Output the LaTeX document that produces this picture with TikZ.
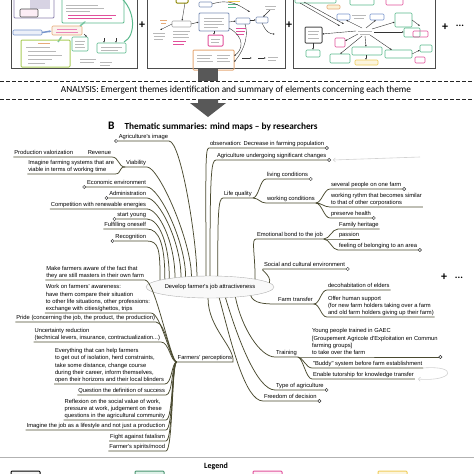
\documentclass[tikz,border=0pt]{standalone}
\usepackage{fontspec}
\setmainfont{Carlito}
\newfontfamily\mapfamily{Liberation Sans}
\usetikzlibrary{positioning,shapes.geometric,arrows.meta}

\newcommand{\mapfont}{\mapfamily\fontsize{5.8}{7.3}\selectfont}

\definecolor{branchcol}{RGB}{74,74,48}
\definecolor{mgreen}{RGB}{90,185,140}
\definecolor{mpink}{RGB}{225,80,155}
\definecolor{mpurple}{RGB}{140,130,175}
\definecolor{morange}{RGB}{230,170,120}
\definecolor{mblue}{RGB}{120,150,205}
\definecolor{myellow}{RGB}{240,205,90}
\definecolor{mlime}{RGB}{170,205,90}
\definecolor{arrowgray}{RGB}{88,88,88}

\begin{document}
\begin{tikzpicture}[x=1pt, y=-1pt,
  thumb/.style={draw=gray!60!black, line width=0.9pt},
  mini/.style={rounded corners=1pt, line width=0.6pt},
  textline/.style={gray!55, line width=0.7pt},
  arrline/.style={gray!40!black, line width=0.4pt, -{Latex[length=2pt,width=1.6pt]}},
  branch/.style={draw=branchcol, line width=0.75pt},
  lft/.style={font=\mapfont, inner xsep=0.8pt, inner ysep=0.8pt, text depth=1.4pt, align=left, anchor=south east},
  rgt/.style={lft, anchor=south west},
  dot/.style={circle, draw=gray!40!black, fill=white, line width=0.45pt, inner sep=0pt, minimum size=3.2pt},
  lightline/.style={gray!35, line width=0.6pt}]
\useasboundingbox (0,0) rectangle (474,474);
\clip (0,0) rectangle (474,474);
\fill[white] (0,0) rectangle (474,474);

% ------------------------------- interview maps (thumbnails)
\draw[thumb] (11,-3) rectangle (137,68);
\draw[thumb] (147,-3) rectangle (285,68);
\draw[thumb] (293,-3) rectangle (435,68);

% map 1
\draw[mini, draw=mpurple, line width=0.8pt] (14,-3) rectangle (54,18);
\fill[mpurple!35] (30,-3) rectangle (50,9);
\draw[mini, draw=gray!60!black, fill=mpink!10] (20,9) rectangle (38,17);
\draw[mini, draw=mgreen, line width=0.8pt] (62,-3) rectangle (124,23);
\draw[textline] (66,5) -- (98,5) (66,8) -- (104,8) (66,11) -- (90,11);
\draw[textline, mpink] (68,15) -- (116,15) (68,18) -- (112,18);
\draw[mgreen, line width=1pt] (120,-3) .. controls (136,10) and (136,36) .. (124,42);
\draw[mini, draw=morange, fill=morange!15] (52,26) rectangle (82,35);
\draw[textline, mpink!70] (57,29) -- (77,29) (56,32) -- (78,32);
\draw[mini, draw=mblue, fill=mblue!15] (13,30) rectangle (42,35);
\draw[mblue, line width=1.5pt, -{Latex[length=3pt]}] (42,32.5) -- (52,31);
\draw[mgreen!80, line width=1.5pt, -{Latex[length=2.5pt]}] (80,26) -- (86,21);
\draw[mgreen!80, line width=1.5pt, -{Latex[length=2.5pt]}] (58,42) -- (62,36);
\draw[mini, draw=mlime, line width=1pt] (21,40) rectangle (70,67);
\draw[textline, morange] (38,43) -- (50,43);
\draw[textline] (26,47) -- (50,47) (28,51) -- (56,51) (28,55) -- (62,55) (28,59) -- (52,59) (28,63) -- (45,63);
\draw[mini, draw=mgreen] (72,37) rectangle (88,51);
\draw[textline] (75,41) -- (85,41) (75,44) -- (84,44) (75,47) -- (85,47);
\draw[mini, draw=mgreen] (97,43) rectangle (126,53);
\draw[textline] (101,47) -- (122,47) (101,50) -- (118,50);
\draw[arrline] (84,34) -- (87,37);
\draw[arrline] (104,38) -- (104,43);
\draw[arrline] (116,38) -- (116,43);
\draw[textline] (80,59) -- (96,59) (80,62) -- (94,62) (100,62) -- (112,62) (100,65) -- (110,65);

% map 2
\draw[mini, draw=olive, line width=1pt] (176,-3) rectangle (188,3);
\draw[mini, draw=gray!70] (172,21) rectangle (191,27);
\draw[mini, draw=mblue!70!gray, line width=0.8pt] (199,13) rectangle (229,31);
\draw[textline] (204,18) -- (224,18) (204,21) -- (222,21) (204,24) -- (224,24) (204,27) -- (218,27);
\draw[mini, draw=mblue!70!gray] (199,2) rectangle (212,7);
\draw[mini, draw=mpink, line width=1pt] (208,35) rectangle (223,46);
\draw[textline] (211,39) -- (220,39) (211,42) -- (219,42);
\draw[mini, draw=morange, line width=1pt] (193,50) rectangle (234,70);
\draw[textline] (197,55) -- (212,55) (197,58) -- (210,58) (197,61) -- (213,61) (217,55) -- (230,55) (217,58) -- (228,58) (217,61) -- (230,61);
\draw[mini, draw=mblue!70!gray] (236,18) rectangle (250,24);
\draw[mini, draw=mblue!70!gray] (256,17) rectangle (268,23);
\draw[textline, myellow] (228,1) -- (240,1);
\draw[textline, mgreen] (228,4) -- (238,4) (228,7) -- (236,7);
\draw[textline, mpink] (236,28) -- (246,28) (236,31) -- (245,31) (236,34) -- (244,34);
\draw[textline, morange] (160,20) -- (167,20) (161,23) -- (166,23);
\draw[textline] (153,33) -- (165,33) (154,36) -- (165,36) (154,39) -- (163,39);
\draw[textline] (173,31) -- (190,31) (173,34) -- (188,34) (173,37) -- (189,37);
\draw[textline, mpink] (173,41) -- (186,41) (173,44) -- (184,44);
\draw[arrline] (191,24) -- (199,22);
\draw[arrline] (214,31) -- (214,35);
\draw[arrline] (229,22) -- (236,21);
\draw[arrline] (250,20) -- (256,20);
\draw[arrline] (185,3) -- (182,21);
\draw[arrline] (172,24) -- (160,30);
\draw[arrline] (212,4) .. controls (230,-2) and (240,6) .. (250,12);
\draw[arrline] (229,28) .. controls (246,38) and (242,50) .. (234,56);
\draw[arrline] (245,24) .. controls (250,40) and (240,55) .. (234,62);
\draw[arrline] (262,23) .. controls (266,32) and (270,34) .. (275,34);
\draw[arrline] (270,10) -- (263,17);
\draw[textline] (265,6) -- (276,6) (266,9) -- (275,9);
\draw[arrline] (242,58) -- (252,58);
\draw[arrline] (258,58) -- (266,58);
\draw[textline] (268,57) -- (278,57) (268,60) -- (276,60);

% map 3
\draw[mini, draw=mgreen] (295,-3) rectangle (336,3);
\draw[mini, draw=mgreen] (350,-3) rectangle (374,5);
\draw[mini, draw=mpink] (386,-3) rectangle (403,5);
\draw[mini, draw=morange, fill=myellow!25] (327,5) rectangle (340,9);
\draw[mini, draw=mblue] (337,14) rectangle (350,20);
\draw[mini, draw=mblue] (370,14) rectangle (384,20);
\draw[textline] (352,15) -- (366,15) (354,18) -- (364,18);
\draw[mini, draw=gray!60!black, line width=1pt] (305,27) rectangle (322,43);
\draw[textline] (308,31) -- (319,31) (308,34) -- (318,34) (308,38) -- (319,38);
\draw[mini, draw=mgreen] (306,50) rectangle (320,57);
\draw[mini, draw=mpink] (335,38) rectangle (345,47);
\draw[mini, draw=mgreen] (330,54) rectangle (350,63);
\draw[mini, draw=mgreen] (352,47) rectangle (382,55);
\draw[mini, draw=myellow, fill=myellow!20] (355,60) rectangle (378,65);
\draw[mini, draw=mgreen] (385,50) rectangle (412,58);
\draw[mini, draw=mgreen] (395,13) rectangle (412,27);
\draw[mini, draw=mgreen] (404,28) rectangle (420,37);
\draw[mini, draw=mpink] (413,31) rectangle (428,37);
\draw[mini, draw=mpink] (415,57) rectangle (425,63);
\draw[mini, draw=mgreen] (420,45) rectangle (432,52);
\draw[textline] (358,31) -- (372,31) (360,34) -- (370,34);
\draw[arrline] (300,3) -- (340,26);
\draw[arrline] (304,2) -- (344,24);
\draw[arrline] (356,31) -- (322,34);
\draw[arrline] (358,34) -- (345,41);
\draw[arrline] (362,36) -- (340,54);
\draw[arrline] (365,36) -- (366,47);
\draw[arrline] (370,35) -- (392,50);
\draw[arrline] (374,32) -- (404,32);
\draw[arrline] (372,29) -- (395,22);
\draw[arrline] (366,28) -- (376,20);
\draw[arrline] (362,28) -- (346,20);
\draw[arrline] (313,43) -- (313,50);
\draw[arrline] (412,54) -- (420,50);
\draw[arrline] (412,20) -- (420,26);
\draw[arrline] (366,55) -- (366,60);

\node (plus1) [font=\bfseries\large] at (142,25) {+};
\node (plus2) [font=\bfseries\large] at (289,25) {+};
\node (plus3) [font=\bfseries\large] at (445,27) {+};
\node (dots3) [font=\bfseries] at (460,26) {...};

% ------------------------------- analysis band
\fill[arrowgray] (198,69) rectangle (218,81);
\draw[gray!30!black, line width=0.9pt, dash pattern=on 4pt off 2pt] (0,81) -- (474,81);
\node (ana) [font=\fontsize{9.3}{11}\selectfont] at (236,90) {ANALYSIS: Emergent themes identification and summary of elements concerning each theme};
\draw[gray!30!black, line width=0.9pt, dash pattern=on 4pt off 2pt] (0,99) -- (474,99);
\fill[arrowgray] (198,99) -- (218,99) -- (218,103) -- (226,103) -- (208,117) -- (190,103) -- (198,103) -- cycle;

\node (secB) [font=\fontsize{11.5}{12}\selectfont\bfseries, anchor=base east] at (118,129) {B};
\node (secBtitle) [font=\fontsize{9.3}{11}\selectfont\bfseries, anchor=base west] at (121,129) {Thematic summaries: mind maps -- by researchers};

% ------------------------------- mind map
\node (dev) [ellipse, draw=gray!60, fill=gray!5, minimum width=107pt, minimum height=22pt, inner sep=0pt, font=\mapfont] at (210,287) {Develop farmer's job attractiveness};

% left, upper
\node (img) [lft] at (169,141) {Agriculture's image};
\node (via) [lft] at (147,167) {Viability};
\node (rev) [lft] at (112,157) {Revenue};
\node (val) [lft] at (74,157) {Production valorization};
\node (sys) [lft] at (115,174) {Imagine farming systems that are\\viable in terms of working time};
\node (eco) [lft] at (147,187) {Economic environment};
\node (adm) [lft] at (147,198) {Administration};
\node (cmp) [lft] at (147,209) {Competition with renewable energies};
\node (sty) [lft] at (147,219) {start young};
\node (ful) [lft] at (147,229) {Fulfilling oneself};
\node (rec) [lft] at (147,241) {Recognition};

\draw[branch] (dev.140) .. controls +(0,-35) and +(12,0) .. (img.south east) -- (img.south west);
\draw[branch] (dev.150) .. controls +(0,-35) and +(12,0) .. (via.south east) -- (via.south west);
\draw[branch] (dev.157) .. controls +(0,-35) and +(12,0) .. (eco.south east) -- (eco.south west);
\draw[branch] (dev.161.5) .. controls +(0,-35) and +(12,0) .. (adm.south east) -- (adm.south west);
\draw[branch] (dev.165) .. controls +(0,-35) and +(12,0) .. (cmp.south east) -- (cmp.south west);
\draw[branch] (dev.168) .. controls +(0,-35) and +(12,0) .. (sty.south east) -- (sty.south west);
\draw[branch] (dev.170) .. controls +(0,-35) and +(12,0) .. (ful.south east) -- (ful.south west);
\draw[branch] (dev.172.5) .. controls +(0,-30) and +(12,0) .. (rec.south east) -- (rec.south west);
\draw[branch] (via.south west) .. controls +(-7,0) and +(7,0) .. (rev.south east) -- (val.south west);
\draw[branch] (via.south west) .. controls +(-7,0) and +(7,0) .. (sys.south east) -- (sys.south west);

\node (imgo) [dot, left=0pt of img.south west] {};
\node (ecoo) [dot, left=0pt of eco.south west] {};
\node (admo) [dot, left=0pt of adm.south west] {};
\node (styo) [dot, left=0pt of sty.south west] {};
\node (reco) [dot, left=0pt of rec.south west] {};

% left, lower
\node (fp) [lft] at (233,362) {Farmers' perceptions};
\node (fa) [lft] at (145,280) {Make farmers aware of the fact that\\they are still masters in their own farm};
\node (fb) [lft] at (151,313) {Work on farmers' awareness:\\have them compare their situation\\to other life situations, other professions:\\exchange with cities/ghettos, trips};
\node (fc) [lft] at (156,322) {Pride (concerning the job, the product, the production)};
\node (fd) [lft] at (161,342) {Uncertainty reduction\\(technical levers, insurance, contractualization...)};
\node (fe) [lft] at (165,384) {Everything that can help farmers\\to get out of isolation, herd constraints,\\take some distance, change course\\during their career, inform themselves,\\open their horizons and their local blinders};
\node (ff) [lft] at (166,395) {Question the definition of success};
\node (fg) [lft] at (166,420) {Reflexion on the social value of work,\\pressure at work, judgement on these\\questions in the agricultural community};
\node (fh) [lft] at (166,430) {Imagine the job as a lifestyle and not just a production};
\node (fi) [lft] at (166,441) {Fight against fatalism};
\node (fj) [lft] at (166,451) {Farmer's spirits/mood};

\draw[branch] (dev.-100) .. controls +(0,30) and +(2,-15) .. (fp.south east) -- (fp.south west);
\draw[branch] (fp.south west) .. controls +(-6,0) and +(10,0) .. (fa.south east) -- (fa.south west);
\draw[branch] (fp.south west) .. controls +(-6,0) and +(10,0) .. (fb.south east) -- (fb.south west);
\draw[branch] (fp.south west) .. controls +(-6,0) and +(10,0) .. (fc.south east) -- (fc.south west);
\draw[branch] (fp.south west) .. controls +(-6,0) and +(8,0) .. (fd.south east) -- (fd.south west);
\draw[branch] (fp.south west) .. controls +(-5,0) and +(7,0) .. (fe.south east) -- (fe.south west);
\draw[branch] (fp.south west) .. controls +(-5,0) and +(7,0) .. (ff.south east) -- (ff.south west);
\draw[branch] (fp.south west) .. controls +(-5,0) and +(7,0) .. (fg.south east) -- (fg.south west);
\draw[branch] (fp.south west) .. controls +(-5,0) and +(7,0) .. (fh.south east) -- (fh.south west);
\draw[branch] (fp.south west) .. controls +(-5,0) and +(7,0) .. (fi.south east) -- (fi.south west);
\draw[branch] (fp.south west) .. controls +(-5,0) and +(7,0) .. (fj.south east) -- (fj.south west);

% right, upper
\node (obs) [rgt] at (209,148) {observation: Decrease in farming population};
\node (chg) [rgt] at (216,160) {Agriculture undergoing significant changes};
\node (lq) [rgt] at (223,198) {Life quality};
\node (liv) [rgt] at (266,179) {living conditions};
\node (wrk) [rgt] at (266,203) {working conditions};
\node (sev) [rgt] at (330,189) {several people on one farm};
\node (ryt) [rgt] at (330,207) {working rythm that becomes similar\\to that of other corporations};
\node (hea) [rgt] at (330,218) {preserve health};
\node (emo) [rgt] at (256,239) {Emotional bond to the job};
\node (fam) [rgt] at (338,229) {Family heritage};
\node (pas) [rgt] at (338,239) {passion};
\node (bel) [rgt] at (338,250) {feeling of belonging to an area};
\node (soc) [rgt] at (263,269) {Social and cultural environment};
\node (ftr) [rgt] at (277,304) {Farm transfer};
\node (dec) [rgt] at (327,290) {decohabitation of elders};
\node (hum) [rgt] at (327,317) {Offer human support\\(for new farm holders taking over a farm\\and old farm holders giving up their farm)};

\draw[branch] (dev.110) .. controls +(0,-110) and +(-4,0) .. (obs.south west) -- (obs.south east);
\draw[branch] (dev.90) .. controls +(0,-100) and +(-5,0) .. (chg.south west) -- (chg.south east);
\draw[branch] (dev.55) .. controls +(0,-60) and +(-5,0) .. (lq.south west) -- (lq.south east);
\draw[branch] (lq.south east) .. controls +(6,0) and +(-6,0) .. (liv.south west) -- (liv.south east);
\draw[branch] (lq.south east) .. controls +(6,0) and +(-6,0) .. (wrk.south west) -- (wrk.south east);
\draw[branch] (wrk.south east) .. controls +(6,0) and +(-6,0) .. (sev.south west) -- (sev.south east);
\draw[branch] (wrk.south east) .. controls +(6,0) and +(-6,0) .. (ryt.south west) -- (ryt.south east);
\draw[branch] (wrk.south east) .. controls +(6,0) and +(-6,0) .. (hea.south west) -- (hea.south east);
\draw[branch] (dev.10) .. controls +(0,-25) and +(-5,0) .. (emo.south west) -- (emo.south east);
\draw[branch] (emo.south east) .. controls +(6,0) and +(-6,0) .. (fam.south west) -- (fam.south east);
\draw[branch] (emo.south east) -- (pas.south west) -- (pas.south east);
\draw[branch] (emo.south east) .. controls +(6,0) and +(-6,0) .. (bel.south west) -- (bel.south east);
\draw[branch] (dev.4) .. controls +(2,-8) and +(-4,0) .. (soc.south west) -- (soc.south east);
\draw[branch] (dev.-12) .. controls +(3,8) and +(-12,0) .. (ftr.south west) -- (ftr.south east);
\draw[branch] (ftr.south east) .. controls +(6,0) and +(-6,0) .. (dec.south west) -- (dec.south east);
\draw[branch] (ftr.south east) .. controls +(6,0) and +(-6,0) .. (hum.south west) -- (hum.south east);

\node (obso) [dot, right=0pt of obs.south east] {};
\node (chgo) [dot, right=0pt of chg.south east] {};
\node (livo) [dot, right=0pt of liv.south east] {};
\node (sevo) [dot, right=0pt of sev.south east] {};
\node (heao) [dot, right=0pt of hea.south east] {};
\node (belo) [dot, right=0pt of bel.south east] {};
\node (soco) [dot, right=0pt of soc.south east] {};

\coordinate (chgfar) at (420,157);
\draw[lightline, {Straight Barb[length=2pt,width=4pt]}-] ([xshift=2pt]chgo.east) -- (chgfar);

% right, lower
\node (trn) [rgt] at (275,357) {Training};
\node (gae) [rgt] at (311,357) {Young people trained in GAEC\\{}[Groupement Agricole d'Exploitation en Commun\\farming groups]\\to take over the farm};
\node (bud) [rgt] at (312,368) {"Buddy" system before farm establishment};
\node (tut) [rgt] at (312,379) {Enable tutorship for knowledge transfer};
\node (typ) [rgt] at (275,390) {Type of agriculture};
\node (fre) [rgt] at (263,401) {Freedom of decision};

\draw[branch] (dev.-22) .. controls +(6,30) and +(-15,0) .. (trn.south west) -- (trn.south east);
\draw[branch] (trn.south east) -- (gae.south west) -- (gae.south east);
\draw[branch] (trn.south east) .. controls +(5,0) and +(-6,0) .. (bud.south west) -- (bud.south east);
\draw[branch] (trn.south east) .. controls +(5,0) and +(-6,0) .. (tut.south west) -- (tut.south east);
\draw[branch] (dev.-35) .. controls +(12,40) and +(-18,0) .. (typ.south west) -- (typ.south east);
\draw[branch] (dev.-50) .. controls +(12,45) and +(-18,0) .. (fre.south west) -- (fre.south east);
\draw[lightline, -{Straight Barb[length=2pt,width=4pt]}] (bud.south east) .. controls +(36,-3) and +(36,3) .. ([xshift=3pt]tut.south east);

\node (gaeo) [dot, right=0pt of gae.south east] {};
\node (typo) [dot, right=0pt of typ.south east] {};
\node (freo) [dot, right=0pt of fre.south east] {};

\node (plus4) [font=\bfseries\large] at (444,277) {+};
\node (dots4) [font=\bfseries] at (459,278) {...};

% ------------------------------- legend
\draw[gray!60, line width=0.7pt] (0,457) -- (474,457);
\node (leg) [font=\fontsize{8}{9}\selectfont\bfseries] at (216,466) {Legend};
\draw[mini, draw=black, line width=1pt, fill=gray!8] (11,471) rectangle (40,480);
\draw[mini, draw=mgreen!80!black, line width=1pt, fill=mgreen!20] (135,471) rectangle (164,480);
\draw[mini, draw=mpink, line width=1pt, fill=mpink!8] (253,471) rectangle (282,480);
\draw[mini, draw=myellow, line width=1pt, fill=myellow!20] (378,471) rectangle (407,480);
\end{tikzpicture}
\end{document}
